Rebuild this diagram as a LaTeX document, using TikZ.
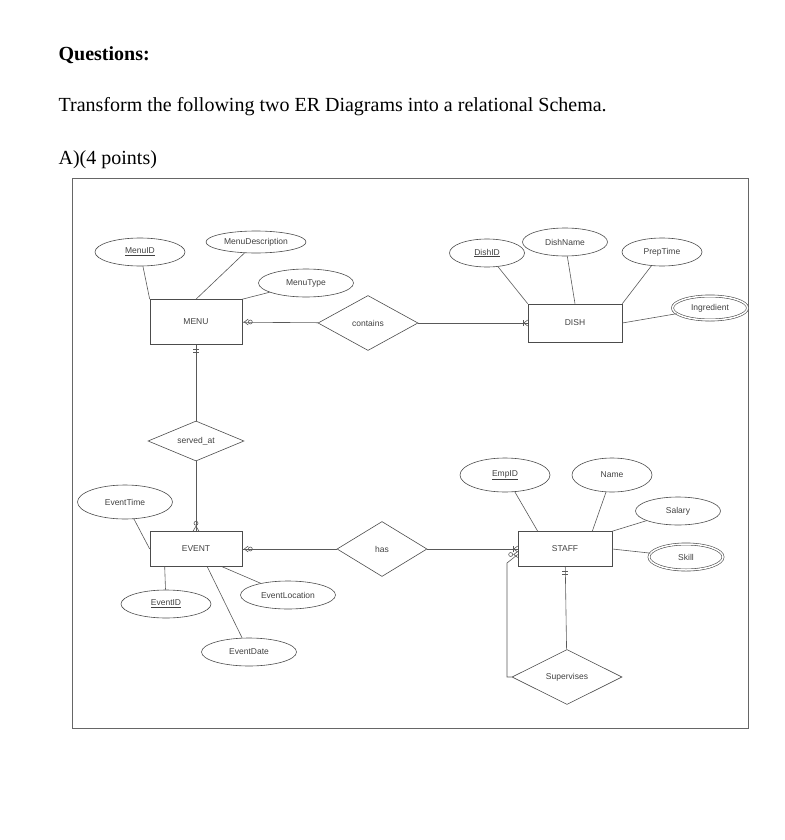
\documentclass[tikz,border=0pt]{standalone}
\usepackage{fontspec}
\setmainfont{Liberation Serif}
\newfontfamily\erfont{Liberation Sans}
\usetikzlibrary{shapes.geometric}
\usetikzlibrary{positioning}

\begin{document}
\begin{tikzpicture}[x=1pt, y=-1pt, font=\erfont\fontsize{8.5}{10}\selectfont, line width=0.6pt]
  \tikzstyle{ent}=[rectangle, draw=black!70, minimum width=92pt, minimum height=38pt, text=black!75]
  \tikzstyle{rel}=[diamond, draw=black!70, aspect=2, inner sep=1pt, text=black!75]
  \tikzstyle{attr}=[ellipse, draw=black!70, minimum width=80pt, minimum height=28pt, inner sep=1pt, text=black!75]
  \tikzstyle{multi}=[attr, double, double distance=1.5pt]
  \tikzstyle{link}=[draw=black!65]
  \useasboundingbox (0,0) rectangle (784,840);
  \node[anchor=west, font=\rmfamily\bfseries\fontsize{20}{24}\selectfont] (title) at (55,55) {Questions:};
  \node[anchor=west, font=\rmfamily\fontsize{20}{24}\selectfont] (task) at (55,107) {Transform the following two ER Diagrams into a relational Schema.};
  \node[anchor=west, font=\rmfamily\fontsize{20}{24}\selectfont] (part) at (55,160) {A)(4 points)};
  \draw[black!60, line width=1pt] (72,178) rectangle (748,728);

  % entities and relationships
  \node (menu) [ent, minimum height=45pt] at (196,322) {MENU};
  \node (dish) [ent, minimum width=94pt] at (575,323) {DISH};
  \node (event) [ent, minimum height=35pt] at (196,549) {EVENT};
  \node (staff) [ent, minimum width=94pt, minimum height=35pt] at (565,549) {STAFF};
  \node (contains) [rel, minimum width=100pt, minimum height=55pt] at (368,323) {contains};
  \node (served) [rel, minimum width=96pt, minimum height=40pt] at (196,441) {served\_at};
  \node (has) [rel, minimum width=90pt, minimum height=55pt] at (382,549) {has};
  \node (sup) [rel, minimum width=110pt, minimum height=55pt] at (567,677) {Supervises};

  % attributes
  \node (menuid) [attr, minimum width=90pt] at (140,252) {\underline{MenuID}};
  \node (menudesc) [attr, minimum width=100pt, minimum height=22pt] at (256,242) {MenuDescription};
  \node (menutype) [attr, minimum width=95pt] at (306,283) {MenuType};
  \node (dishid) [attr, minimum width=75pt] at (487,253) {\underline{DishID}};
  \node (dishname) [attr, minimum width=85pt] at (565,242) {DishName};
  \node (preptime) [attr] at (662,252) {PrepTime};
  \node (ingr) [multi, minimum width=75pt, minimum height=24pt] at (710,308) {Ingredient};
  \node (evtime) [attr, minimum width=95pt, minimum height=34pt] at (125,502) {EventTime};
  \node (evid) [attr, minimum width=90pt] at (166,604) {\underline{EventID}};
  \node (evloc) [attr, minimum width=95pt] at (288,595) {EventLocation};
  \node (evdate) [attr, minimum width=95pt] at (249,652) {EventDate};
  \node (empid) [attr, minimum width=90pt, minimum height=34pt] at (505,475) {\underline{EmpID}};
  \node (name) [attr, minimum height=34pt] at (612,475) {Name};
  \node (salary) [attr, minimum width=85pt] at (678,511) {Salary};
  \node (skill) [multi, minimum width=74pt, minimum height=26pt] at (686,557) {Skill};

  % attribute links
  \draw[link] (menuid) -- (menu.north west);
  \draw[link] (menudesc) -- (menu.north);
  \draw[link] (menutype) -- (menu.north east);
  \draw[link] (dishid) -- (dish.north west);
  \draw[link] (dishname) -- (dish.north);
  \draw[link] (preptime) -- (dish.north east);
  \draw[link] (ingr) -- (dish.east);
  \draw[link] (evtime) -- (event.west);
  \draw[link] (evid) -- ([xshift=15pt]event.south west);
  \draw[link] (evloc) -- ([xshift=-20pt]event.south east);
  \draw[link] (evdate) -- ([xshift=-35pt]event.south east);
  \draw[link] (empid) -- ([xshift=20pt]staff.north west);
  \draw[link] (name) -- ([xshift=-20pt]staff.north east);
  \draw[link] (salary) -- (staff.north east);
  \draw[link] (skill) -- (staff.east);

  % relationship links
  \draw[link] (menu) -- (contains);
  \draw[link] (contains) -- (dish);
  \draw[link] (menu) -- (served);
  \draw[link] (served) -- (event);
  \draw[link] (event) -- (has);
  \draw[link] (has) -- (staff);
  \draw[link] (staff) -- (sup);
  \draw[link] (sup.west) -| (507,563) -- ([yshift=-5.5pt]staff.west);

  % cardinality marks
  \draw[link] ([xshift=2pt]menu.east) -- +(4,-3) ([xshift=2pt]menu.east) -- +(4,3);
  \draw[link] ([xshift=8pt]menu.east) circle (2pt);
  \draw[link] ([xshift=2pt]event.east) -- +(4,-3) ([xshift=2pt]event.east) -- +(4,3);
  \draw[link] ([xshift=8pt]event.east) circle (2pt);
  \draw[link] ([yshift=-4pt]menu.south) ++(-3,0) -- +(6,0) ([yshift=-7pt]menu.south) ++(-3,0) -- +(6,0);
  \draw[link] ([xshift=-4pt]dish.west) ++(0,-3) -- +(0,6);
  \draw[link] (dish.west) ++(0,-3) -- ++(-4,3) -- ++(4,3);
  \draw[link] ([xshift=-4pt]staff.west) ++(0,-3) -- +(0,6);
  \draw[link] (staff.west) ++(0,-3) -- ++(-4,3) -- ++(4,3);
  \draw[link] (event.north) ++(-3,0) -- ++(3,-5) -- ++(3,5);
  \draw[link] ([yshift=8pt]event.north) circle (2pt);
  \draw[link] ([yshift=-2.5pt]staff.west) -- ++(-4,3) -- ++(4,3);
  \draw[link] ([shift={(-7pt,-5.5pt)}]staff.west) circle (2pt);
  \draw[link] ([yshift=-4pt]staff.south) ++(-3,0) -- +(6,0) ([yshift=-7pt]staff.south) ++(-3,0) -- +(6,0);
\end{tikzpicture}
\end{document}
